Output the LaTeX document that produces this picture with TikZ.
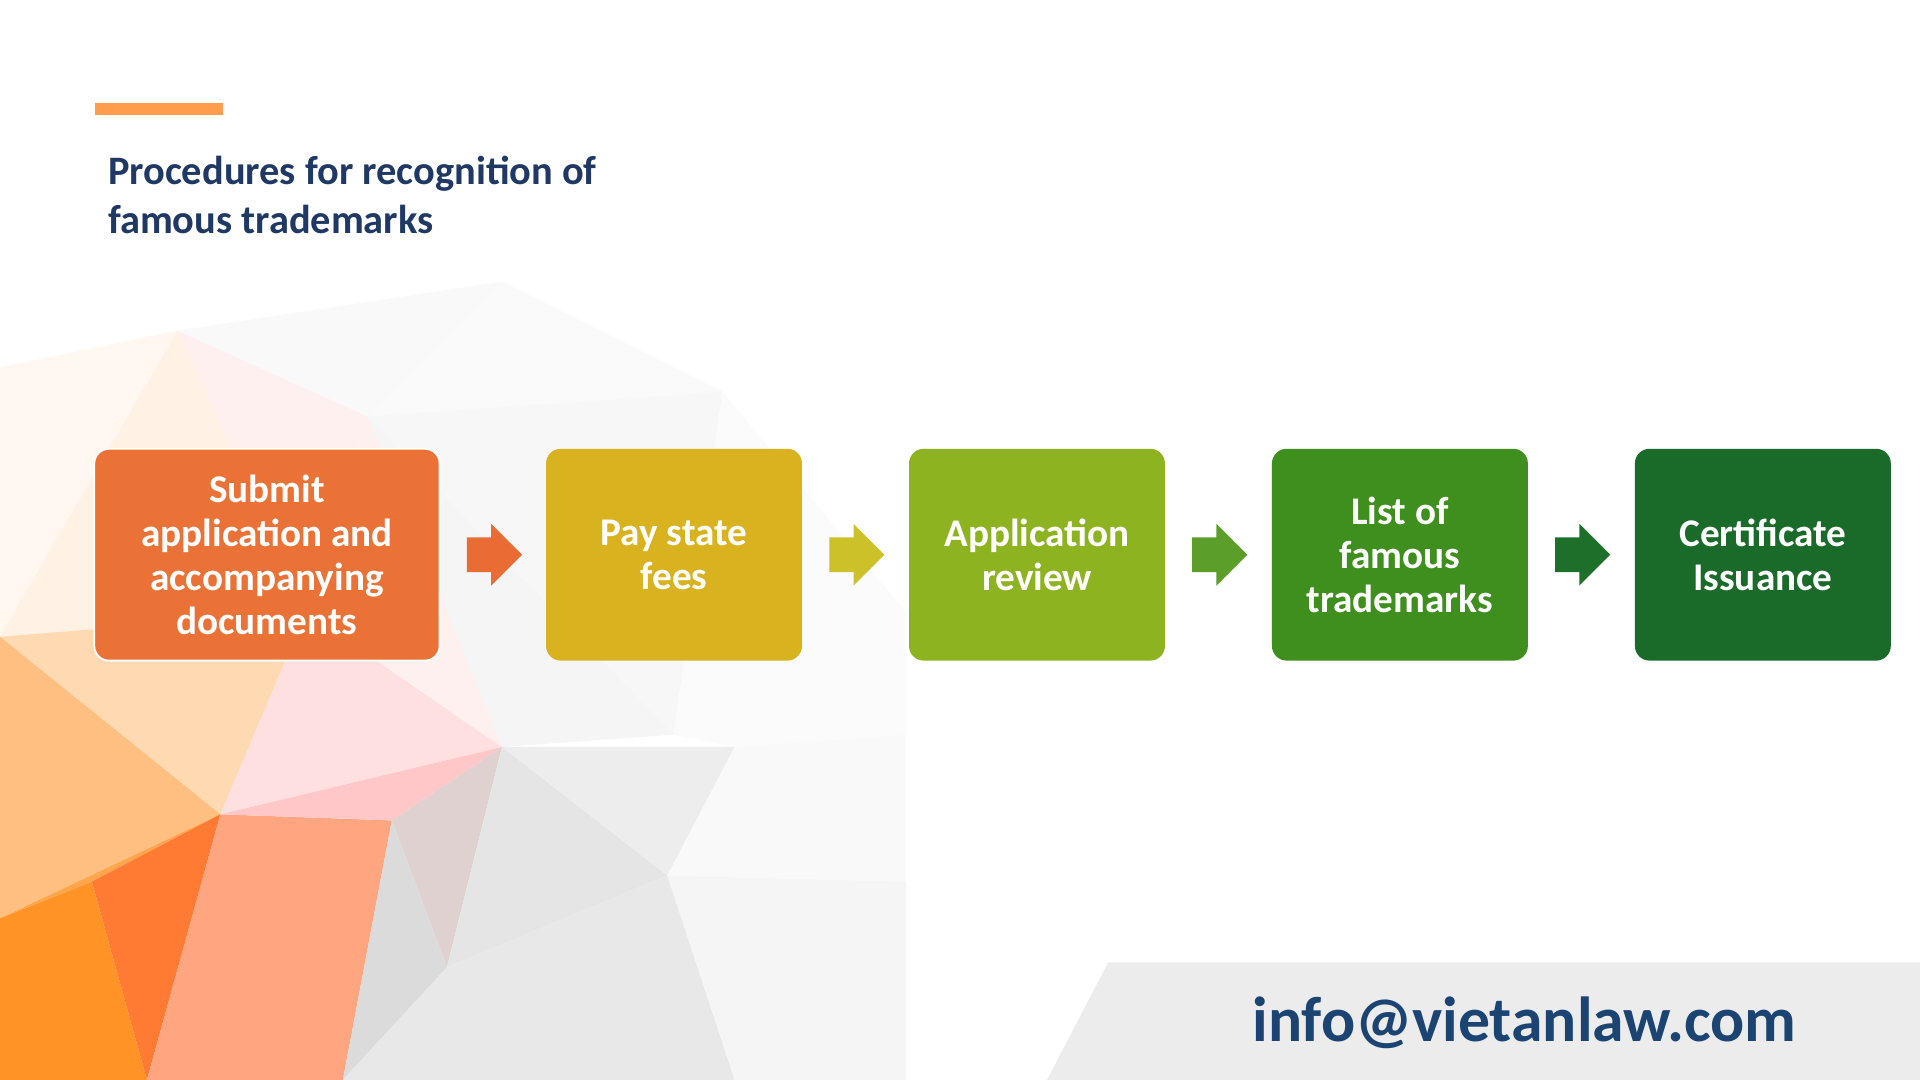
\documentclass[tikz,border=0pt]{standalone}
\usepackage{fontspec}
\setmainfont{Carlito}
\usetikzlibrary{shapes.arrows, positioning, calc}
\definecolor{titleblue}{HTML}{1F3864}
\definecolor{mailblue}{HTML}{1B4472}
\definecolor{stepA}{HTML}{EA7236}
\definecolor{stepB}{HTML}{D9B21F}
\definecolor{stepC}{HTML}{8DB320}
\definecolor{stepD}{HTML}{3F8F1F}
\definecolor{stepE}{HTML}{1A6B2A}
\definecolor{arrA}{HTML}{EA6C35}
\definecolor{arrB}{HTML}{CDC12A}
\definecolor{arrC}{HTML}{5C9E2A}
\definecolor{arrD}{HTML}{1E6F2A}
\tikzstyle{stepbox} = [rectangle, rounded corners=12pt, minimum width=209pt, minimum height=173pt,
                       align=center, text=white, font=\fontsize{32}{36}\selectfont\bfseries]
\tikzstyle{arrowbox} = [single arrow, single arrow head extend=11pt, minimum height=45pt,
                        inner sep=0pt, single arrow head indent=0pt, xshift=-6pt]
\begin{document}
\begin{tikzpicture}[x=1pt, y=-1pt, node distance=86pt]
    % Background
    \fill[white] (0,0) rectangle (1568,882);
    \fill[orange!6] (0,300) -- (145,270) -- (0,520) -- cycle;
    \fill[red!6] (145,270) -- (300,340) -- (250,500) -- cycle;
    \fill[gray!5] (145,270) -- (410,230) -- (300,340) -- cycle;
    \fill[gray!4] (410,230) -- (590,320) -- (300,340) -- cycle;
    \fill[orange!10] (0,520) -- (145,270) -- (250,500) -- cycle;
    \fill[orange!30] (0,520) -- (250,500) -- (180,665) -- cycle;
    \fill[red!12] (250,500) -- (410,610) -- (180,665) -- cycle;
    \fill[gray!6] (300,340) -- (590,320) -- (550,600) -- cycle;
    \fill[red!6] (250,500) -- (300,340) -- (410,610) -- cycle;
    \fill[gray!8] (300,340) -- (550,600) -- (410,610) -- cycle;
    \fill[orange!50] (0,520) -- (180,665) -- (0,750) -- cycle;
    \fill[orange!70] (0,750) -- (180,665) -- (75,720) -- cycle;
    \fill[orange!85] (0,750) -- (75,720) -- (120,882) -- (0,882) -- cycle;
    \fill[orange!70!red!80] (75,720) -- (180,665) -- (120,882) -- cycle;
    \fill[red!40!orange!50] (180,665) -- (320,670) -- (280,882) -- (120,882) -- cycle;
    \fill[red!22] (180,665) -- (410,610) -- (320,670) -- cycle;
    \fill[red!20!gray!30] (320,670) -- (410,610) -- (365,790) -- cycle;
    \fill[gray!28] (320,670) -- (365,790) -- (280,882) -- cycle;
    \fill[gray!20] (410,610) -- (545,715) -- (365,790) -- cycle;
    \fill[gray!14] (410,610) -- (600,610) -- (545,715) -- cycle;
    \fill[gray!18] (365,790) -- (545,715) -- (600,882) -- (280,882) -- cycle;
    \fill[gray!8] (545,715) -- (740,720) -- (740,882) -- (600,882) -- cycle;
    \fill[gray!5] (600,610) -- (740,600) -- (740,720) -- (545,715) -- cycle;
    \fill[gray!3] (550,600) -- (590,320) -- (740,500) -- (740,600) -- (600,610) -- cycle;
    % Title
    \fill[orange!90!red!70, draw=white, line width=1.5pt] (77,83) rectangle (183,95);
    \node[anchor=north west, align=left, text=titleblue, font=\fontsize{33}{40}\selectfont\bfseries,
          inner sep=0pt] (title) at (88,127) {Procedures for recognition of\\famous trademarks};
    % Steps
    \node[stepbox, fill=stepA, draw=white, line width=1.5pt, minimum width=282pt] (submit) at (218,453)
        {Submit\\application and\\accompanying\\documents};
    \node[stepbox, fill=stepB, right=86pt of submit] (fees) {Pay state\\fees};
    \node[stepbox, fill=stepC, right=87pt of fees] (review) {Application\\review};
    \node[stepbox, fill=stepD, right=87pt of review] (list) {List of\\famous\\trademarks};
    \node[stepbox, fill=stepE, right=87pt of list] (cert) {Certificate\\Issuance};
    % Arrows
    \node[arrowbox, fill=arrA] (arr1) at ($(submit.east)!0.5!(fees.west)$) {\rule{0pt}{28pt}};
    \node[arrowbox, fill=arrB] (arr2) at ($(fees.east)!0.5!(review.west)$) {\rule{0pt}{28pt}};
    \node[arrowbox, fill=arrC] (arr3) at ($(review.east)!0.5!(list.west)$) {\rule{0pt}{28pt}};
    \node[arrowbox, fill=arrD] (arr4) at ($(list.east)!0.5!(cert.west)$) {\rule{0pt}{28pt}};
    % Footer
    \fill[gray!15] (905,786) -- (1568,786) -- (1568,882) -- (855,882) -- cycle;
    \node[text=mailblue, font=\fontsize{52}{60}\selectfont\bfseries] (mail) at (1245,835) {info@vietanlaw.com};
\end{tikzpicture}
\end{document}
